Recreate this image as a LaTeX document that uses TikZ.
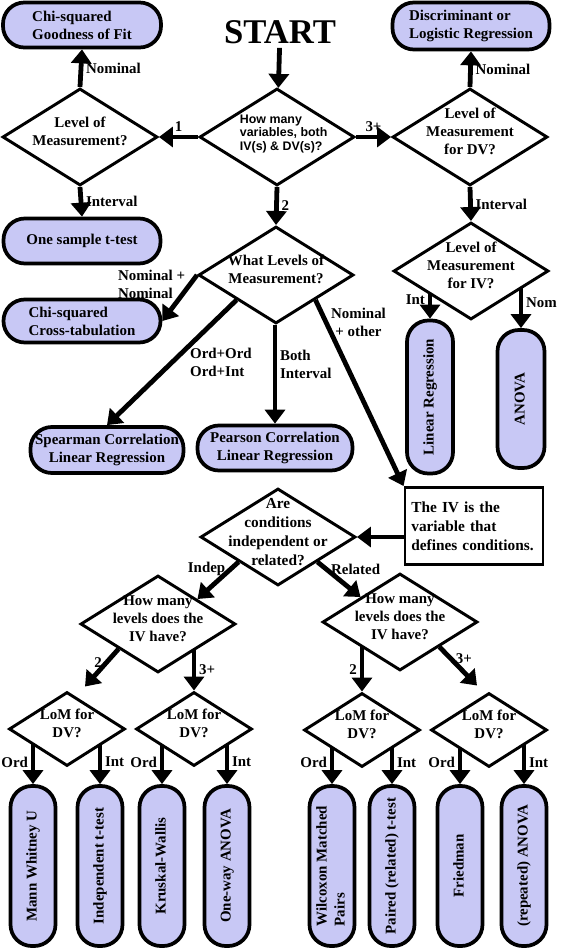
\documentclass[tikz,border=0pt]{standalone}
\usepackage{fontspec}
\setmainfont{Liberation Serif}
\newfontfamily\arialfont{Liberation Sans}
\usetikzlibrary{arrows.meta, shapes.geometric, calc, backgrounds}

\definecolor{lav}{RGB}{200,200,245}
\def\pxu{0.75pt}
\newcommand{\qtext}[2][c]{\smash{\makebox[0pt]{\begin{tabular}{@{}#1@{}}#2\end{tabular}}}}
\newcommand{\vtext}[2][c]{\rotatebox{90}{\begin{tabular}{@{}#1@{}}#2\end{tabular}}}

\tikzset{
	question/.style={draw, diamond, fill=white, line width=2.2pt, inner sep=0pt, minimum width=155*\pxu, minimum height=97*\pxu},
	lom/.style={question, minimum width=116*\pxu, minimum height=74*\pxu},
	pill/.style 2 args={draw, fill=lav, line width=2.8pt, rounded corners=16pt, inner sep=0pt, minimum width=#1*\pxu, minimum height=#2*\pxu},
	arr/.style={line width=3.6pt, -{Triangle[length=10.5pt, width=15pt]}},
	lbl/.style={inner sep=2pt},
}

\begin{document}
\begin{tikzpicture}[x=\pxu, y=-\pxu, font=\fontsize{11.2}{13.5}\selectfont\bfseries]
			\useasboundingbox (0,0) rectangle (569,949);

			% top row
			\node[inner sep=0pt, font=\fontsize{26}{30}\selectfont\bfseries] (start) at (280,32) {START};
			\node[question, font=\arialfont\bfseries\fontsize{9.3}{10}\selectfont] (q1) at (277,137) {\hspace*{10pt}\qtext[l]{How many\\variables, both\\IV(s) \& DV(s)?}};
			\node[question] (qL) at (80,137) {\qtext{Level of\\Measurement?}};
			\node[question] (qR) at (470,137) {\qtext{Level of\\Measurement\\for DV?}};
			\node[pill={158}{45}, align=left] (gof) at (82,25) {Chi-squared\\Goodness of Fit};
			\node[pill={157}{47}, align=left] (disc) at (471,26) {Discriminant or\\Logistic Regression};
			\node[pill={157}{45}] (onesam) at (82,241) {One sample t-test};

			% right column
			\node[question] (qiv) at (471,271) {\qtext{Level of\\Measurement\\for IV?}};
			\node[pill={46}{153}] (linreg) at (430,397) {\vtext{Linear Regression}};
			\node[pill={47}{138}] (anova) at (521,399) {\vtext{ANOVA}};

			% two variables
			\node[question] (qwl) at (276,275) {\qtext{What Levels of\\Measurement?}};
			\node[pill={157}{43}, align=left] (xtab) at (82,321) {Chi-squared\\Cross-tabulation};
			\node[pill={153}{46}, align=center] (spear) at (107,450) {Spearman Correlation\\Linear Regression};
			\node[pill={155}{45}, align=center] (pear) at (275,448) {Pearson Correlation\\Linear Regression};
			\node[draw, line width=2.2pt, fill=white, text width=94pt, inner xsep=4.75pt, minimum height=77*\pxu, align=left, font=\fontsize{11.5}{14.3}\selectfont\bfseries] (ivbox) at (474,526) {The IV is the\\variable that\\defines conditions.};

			% conditions
			\node[question, font=\fontsize{11.5}{14.3}\selectfont\bfseries] (qare) at (278,537) {\qtext{Are\\conditions\\independent or\\related?}};
			\node[question] (qind) at (158,624) {\qtext{How many\\levels does the\\IV have?}};
			\node[question] (qrel) at (400,622) {\qtext{How many\\levels does the\\IV have?}};
			\node[lom] (loma) at (67,729) {\qtext{LoM for\\DV?}};
			\node[lom] (lomb) at (194,729) {\qtext{LoM for\\DV?}};
			\node[lom] (lomc) at (362,730) {\qtext{LoM for\\DV?}};
			\node[lom] (lomd) at (489,730) {\qtext{LoM for\\DV?}};

			% tests
			\node[pill={45}{160}] (mwu) at (33,866) {\vtext{Mann Whitney U}};
			\node[pill={45}{160}] (indt) at (100,866) {\vtext{Independent t-test}};
			\node[pill={45}{160}] (kw) at (162,866) {\vtext{Kruskal-Wallis}};
			\node[pill={45}{160}] (owa) at (227,866) {\vtext{One-way ANOVA}};
			\node[pill={45}{160}] (wil) at (332,866) {\vtext[l]{Wilcoxon Matched\\Pairs}};
			\node[pill={45}{160}] (pair) at (392,866) {\vtext{Paired (related) t-test}};
			\node[pill={45}{160}] (fried) at (460,866) {\vtext{Friedman}};
			\node[pill={45}{160}] (rep) at (524,866) {\vtext{(repeated) ANOVA}};

			\begin{scope}[on background layer]
				\draw[arr, shorten <=3pt] (start) -- (q1);
				\draw[arr] (q1.west) -- node[lbl, above] {1} (qL.east);
				\draw[arr] (q1.east) -- node[lbl, above] {3+} (qR.west);
				\draw[arr] (q1.south) -- node[lbl, right] {2} (qwl.north);
				\draw[arr] (qL.north) -- node[lbl, right] {Nominal} (gof.south);
				\draw[arr] (qL.south) -- node[lbl, right] {Interval} (onesam.north);
				\draw[arr] (qR.north) -- node[lbl, right] {Nominal} (disc.south);
				\draw[arr] (qR.south) -- node[lbl, right] {Interval} (qiv.north);
				\draw[arr] (linreg.north |- qiv.center) -- node[lbl, pos=0.6, left] {Int} (linreg.north);
				\draw[arr] (anova.north |- qiv.center) -- node[lbl, pos=0.55, right] {Nom} (anova.north);

				\draw[arr] (qwl.west) -- node[lbl, pos=0.2, left, align=left] {Nominal +\\Nominal} (xtab.east);
				\draw[arr] (qwl.south west) -- node[lbl, midway, right=10pt, align=left] {Ord+Ord\\Ord+Int} (spear.north);
				\draw[arr] (pear.north |- qwl.south) -- node[lbl, pos=0.4, right, align=left] {Both\\Interval} (pear.north);
				\draw[arr] (qwl.south east) -- node[lbl, pos=0.12, right, align=center] {Nominal\\+ other} (ivbox.north west);
				\draw[arr] (ivbox.west |- qare.east) -- (qare.east);

				\draw[arr] (qare.south west) -- node[lbl, pos=0.2, left] {Indep} (qind.north east);
				\draw[arr] (qare.south east) -- node[lbl, pos=0.2, right] {Related} (qrel.north west);
				\draw[arr] (qind.south west) -- node[lbl, pos=0.35, left] {2} ($(loma.north)+(18,-4)$);
				\draw[arr] (lomb.north |- qind.south east) -- node[lbl, right] {3+} (lomb.north);
				\draw[arr] (lomc.north |- qrel.south west) -- node[lbl, left] {2} (lomc.north);
				\draw[arr] (qrel.south east) -- node[lbl, pos=0.3, right] {3+} ($(lomd.north)+(-12,-6)$);

				\draw[arr] (mwu.north |- loma.center) -- node[lbl, pos=0.6, left] {Ord} (mwu.north);
				\draw[arr] (indt.north |- loma.center) -- node[lbl, pos=0.6, right] {Int} (indt.north);
				\draw[arr] (kw.north |- lomb.center) -- node[lbl, pos=0.6, left] {Ord} (kw.north);
				\draw[arr] (owa.north |- lomb.center) -- node[lbl, pos=0.6, right] {Int} (owa.north);
				\draw[arr] (wil.north |- lomc.center) -- node[lbl, pos=0.6, left] {Ord} (wil.north);
				\draw[arr] (pair.north |- lomc.center) -- node[lbl, pos=0.6, right] {Int} (pair.north);
				\draw[arr] (fried.north |- lomd.center) -- node[lbl, pos=0.6, left] {Ord} (fried.north);
				\draw[arr] (rep.north |- lomd.center) -- node[lbl, pos=0.6, right] {Int} (rep.north);
			\end{scope}
		\end{tikzpicture}
\end{document}
